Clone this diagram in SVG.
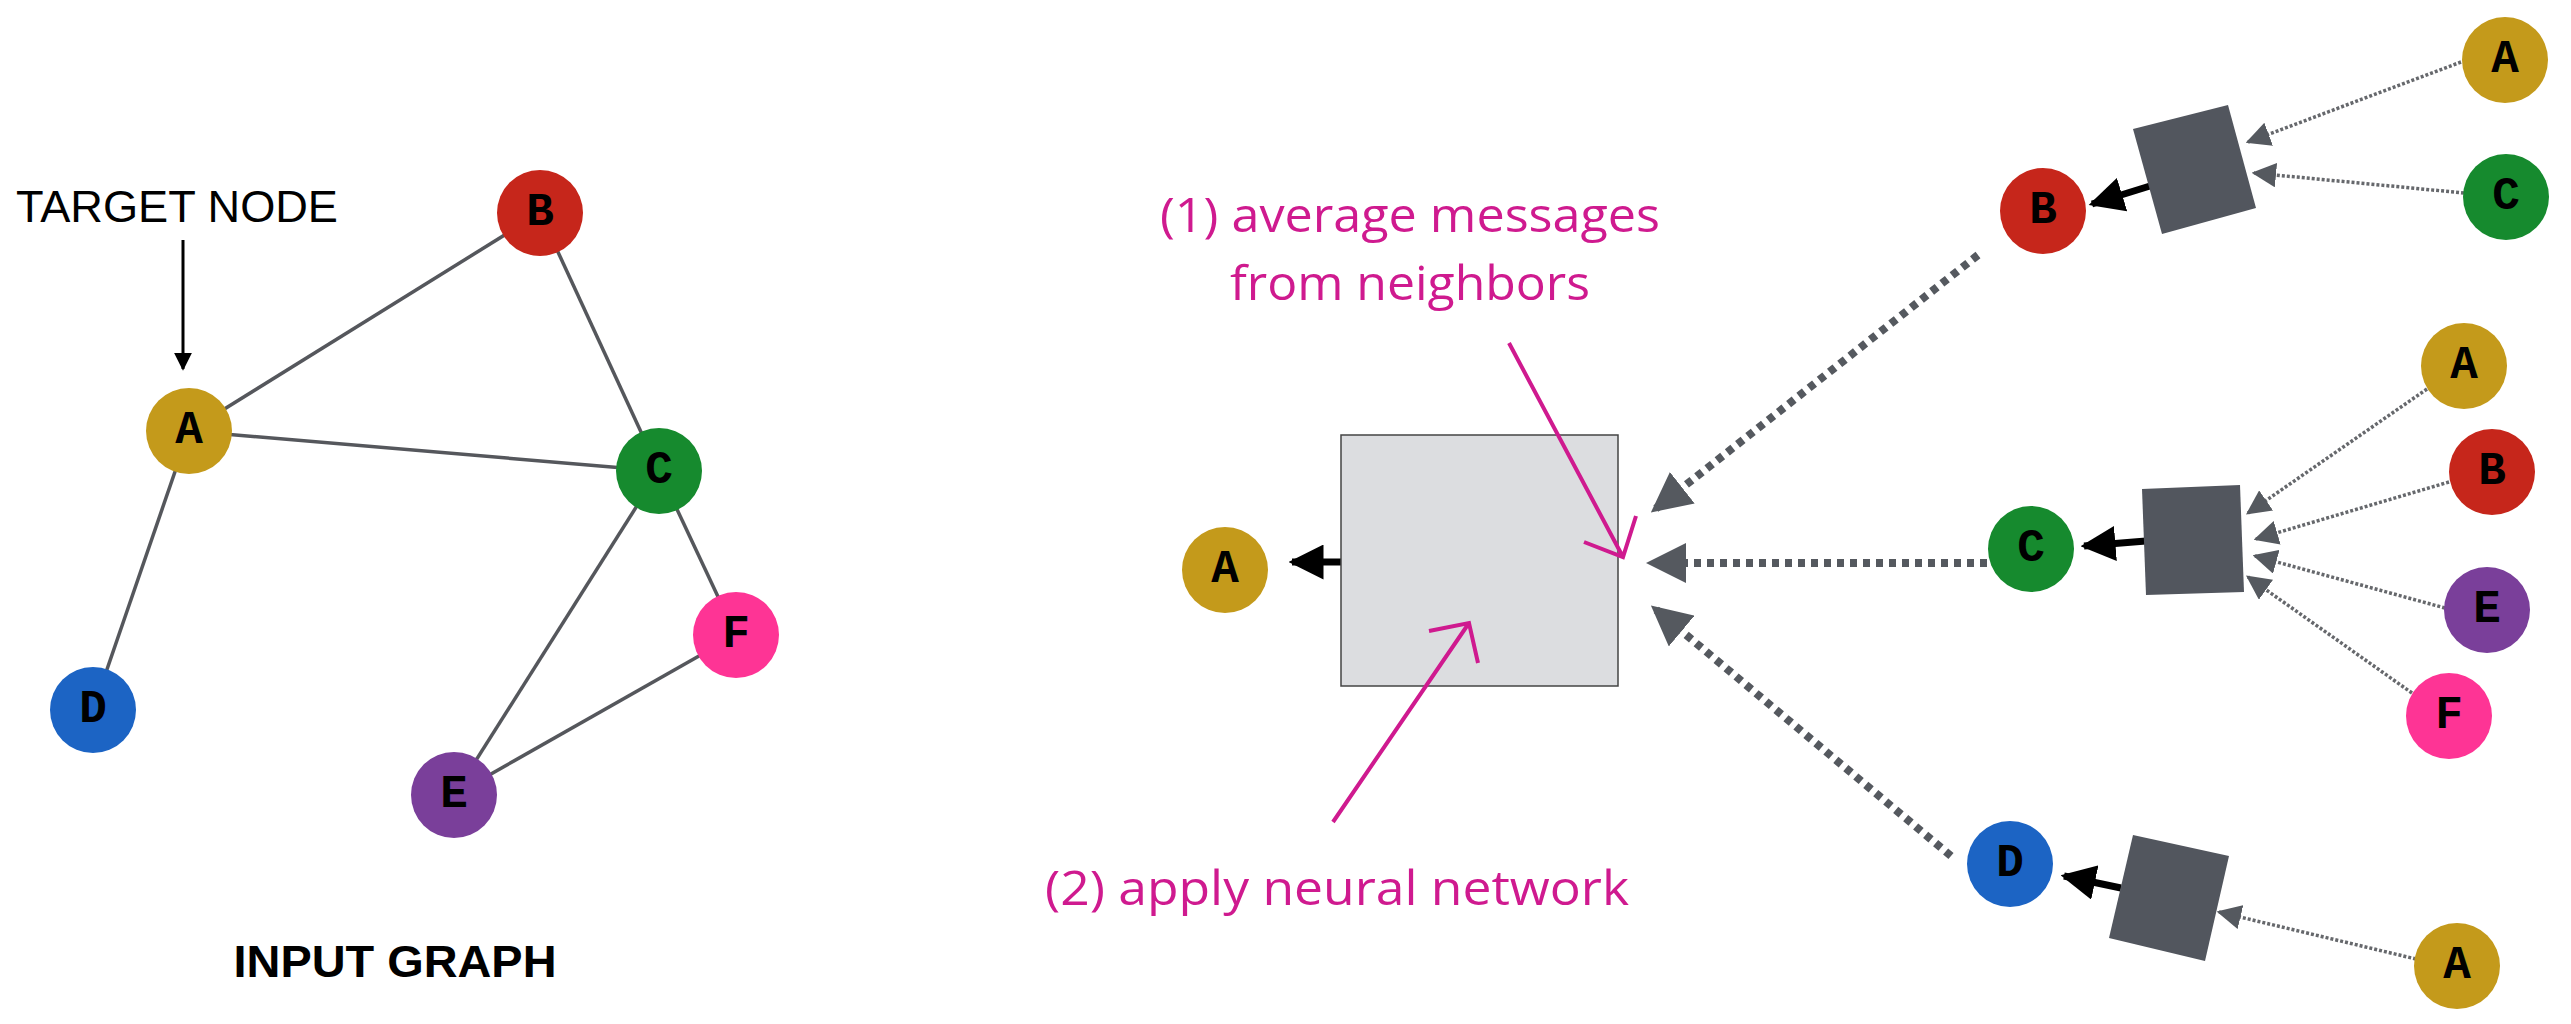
<svg xmlns="http://www.w3.org/2000/svg" width="2571" height="1024" viewBox="0 0 2571 1024">
<style>
.n text{font-family:"Liberation Mono",monospace;font-weight:bold;font-size:46px;text-anchor:middle;dominant-baseline:central;fill:#000}
.e{stroke:#55575c;stroke-width:3.5;fill:none}
.pk{font-family:"Open Sans","Liberation Sans",sans-serif;font-size:48px;fill:#cf1a8f;text-anchor:middle}
.pa{stroke:#cf1a8f;stroke-width:4;fill:none}
.big{stroke:#55595f;stroke-width:8;stroke-dasharray:7 6;fill:none}
.sm{stroke:#66686c;stroke-width:3.5;stroke-dasharray:3 2;fill:none}
.blk{stroke:#000;stroke-width:7;fill:none}
.box{fill:#52565e}
</style>
<defs>
<marker id="mb" viewBox="0 0 10 10" refX="9" refY="5" markerWidth="5" markerHeight="5" orient="auto" markerUnits="strokeWidth"><path d="M0,0L10,5L0,10z" fill="#55595f"/></marker>
<marker id="ms" viewBox="0 0 10 10" refX="9" refY="5" markerWidth="7" markerHeight="7" orient="auto" markerUnits="strokeWidth"><path d="M0,0L10,5L0,10z" fill="#55595f"/></marker>
<marker id="mk" viewBox="0 0 10 10" refX="9" refY="5" markerWidth="5" markerHeight="5" orient="auto" markerUnits="strokeWidth"><path d="M0,0L10,5L0,10z" fill="#000"/></marker>
<marker id="mt" viewBox="0 0 10 10" refX="9" refY="5" markerWidth="6" markerHeight="6" orient="auto" markerUnits="strokeWidth"><path d="M0,0L10,5L0,10z" fill="#000"/></marker>
</defs>
<g id="connectors">
<line class="e" x1="189" y1="431" x2="540" y2="213"/>
<line class="e" x1="189" y1="431" x2="659" y2="471"/>
<line class="e" x1="189" y1="431" x2="93" y2="710"/>
<line class="e" x1="540" y1="213" x2="659" y2="471"/>
<line class="e" x1="659" y1="471" x2="736" y2="635"/>
<line class="e" x1="659" y1="471" x2="454" y2="795"/>
<line class="e" x1="736" y1="635" x2="454" y2="795"/>
<line x1="183" y1="240" x2="183" y2="369" stroke="#000" stroke-width="3" marker-end="url(#mt)"/>
<line class="blk" x1="1341" y1="562" x2="1292" y2="562" marker-end="url(#mk)"/>
<line class="big" x1="1978" y1="255" x2="1654" y2="510" marker-end="url(#mb)"/>
<line class="big" x1="1987" y1="563" x2="1650" y2="563" marker-end="url(#mb)"/>
<line class="big" x1="1951" y1="856" x2="1654" y2="608" marker-end="url(#mb)"/>
<line class="blk" x1="2150" y1="186" x2="2092" y2="204" marker-end="url(#mk)"/>
<line class="blk" x1="2146" y1="541" x2="2084" y2="546" marker-end="url(#mk)"/>
<line class="blk" x1="2121" y1="888" x2="2064" y2="876" marker-end="url(#mk)"/>
<line class="sm" x1="2461" y1="62" x2="2248" y2="142" marker-end="url(#ms)"/>
<line class="sm" x1="2464" y1="193" x2="2254" y2="173" marker-end="url(#ms)"/>
<line class="sm" x1="2427" y1="389" x2="2248" y2="513" marker-end="url(#ms)"/>
<line class="sm" x1="2449" y1="482" x2="2256" y2="539" marker-end="url(#ms)"/>
<line class="sm" x1="2445" y1="608" x2="2255" y2="556" marker-end="url(#ms)"/>
<line class="sm" x1="2412" y1="693" x2="2248" y2="577" marker-end="url(#ms)"/>
<line class="sm" x1="2416" y1="959" x2="2219" y2="912" marker-end="url(#ms)"/>
</g>
<g id="bigbox"><rect x="1341" y="435" width="277" height="251" fill="#dcdde0" stroke="#444" stroke-width="1.5"/></g>
<g id="box1"><polygon class="box" points="2133,129 2228,105 2256,208 2162,234"/></g>
<g id="box2"><polygon class="box" points="2142,489 2240,485 2244,592 2146,595"/></g>
<g id="box3"><polygon class="box" points="2133,835 2229,856 2205,961 2109,938"/></g>
<g id="pinkarrows">
<path class="pa" d="M1509,343L1623,557M1584,542L1623,557L1636,516"/>
<path class="pa" d="M1333,822L1469,623M1429,631L1469,623L1478,663"/>
</g>
<g id="labels">
<text x="16" y="222" font-family="Liberation Sans,sans-serif" font-size="44" textLength="322" lengthAdjust="spacingAndGlyphs">TARGET NODE</text>
<text x="395" y="977" font-family="Liberation Sans,sans-serif" font-weight="bold" font-size="44" text-anchor="middle" textLength="323" lengthAdjust="spacingAndGlyphs">INPUT GRAPH</text>
<text class="pk" x="1410" y="232" textLength="500" lengthAdjust="spacingAndGlyphs">(1) average messages</text>
<text class="pk" x="1410" y="300" textLength="360" lengthAdjust="spacingAndGlyphs">from neighbors</text>
<text class="pk" x="1337" y="905" textLength="584" lengthAdjust="spacingAndGlyphs">(2) apply neural network</text>
</g>
<g id="gA" class="n"><circle cx="189" cy="431" r="43" fill="#c49a1b"/><text x="189" y="431">A</text></g>
<g id="gB" class="n"><circle cx="540" cy="213" r="43" fill="#c6261b"/><text x="540" y="213">B</text></g>
<g id="gC" class="n"><circle cx="659" cy="471" r="43" fill="#168a2e"/><text x="659" y="471">C</text></g>
<g id="gD" class="n"><circle cx="93" cy="710" r="43" fill="#1c64c4"/><text x="93" y="710">D</text></g>
<g id="gE" class="n"><circle cx="454" cy="795" r="43" fill="#7a3f9a"/><text x="454" y="795">E</text></g>
<g id="gF" class="n"><circle cx="736" cy="635" r="43" fill="#fe3495"/><text x="736" y="635">F</text></g>
<g id="rA" class="n"><circle cx="1225" cy="570" r="43" fill="#c49a1b"/><text x="1225" y="570">A</text></g>
<g id="rB" class="n"><circle cx="2043" cy="211" r="43" fill="#c6261b"/><text x="2043" y="211">B</text></g>
<g id="rC" class="n"><circle cx="2031" cy="549" r="43" fill="#168a2e"/><text x="2031" y="549">C</text></g>
<g id="rD" class="n"><circle cx="2010" cy="864" r="43" fill="#1c64c4"/><text x="2010" y="864">D</text></g>
<g id="rA1" class="n"><circle cx="2505" cy="60" r="43" fill="#c49a1b"/><text x="2505" y="60">A</text></g>
<g id="rC1" class="n"><circle cx="2506" cy="197" r="43" fill="#168a2e"/><text x="2506" y="197">C</text></g>
<g id="rA2" class="n"><circle cx="2464" cy="366" r="43" fill="#c49a1b"/><text x="2464" y="366">A</text></g>
<g id="rB2" class="n"><circle cx="2492" cy="472" r="43" fill="#c6261b"/><text x="2492" y="472">B</text></g>
<g id="rE2" class="n"><circle cx="2487" cy="610" r="43" fill="#7a3f9a"/><text x="2487" y="610">E</text></g>
<g id="rF2" class="n"><circle cx="2449" cy="716" r="43" fill="#fe3495"/><text x="2449" y="716">F</text></g>
<g id="rA3" class="n"><circle cx="2457" cy="966" r="43" fill="#c49a1b"/><text x="2457" y="966">A</text></g>
</svg>
